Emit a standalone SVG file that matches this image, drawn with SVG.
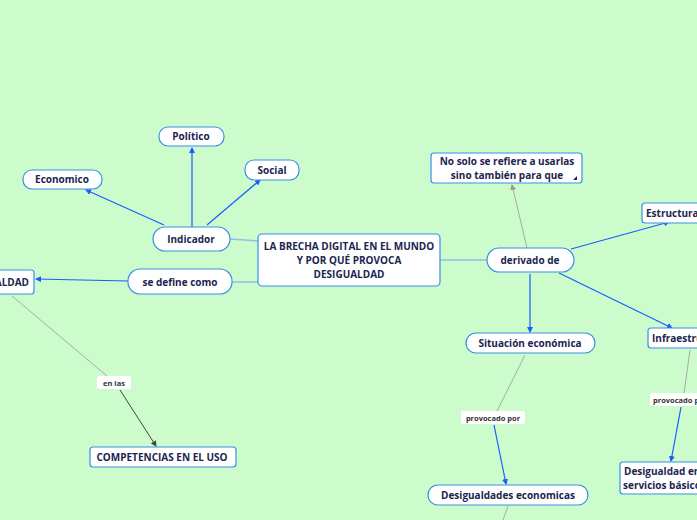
<svg xmlns="http://www.w3.org/2000/svg" width="697" height="520" viewBox="0 0 697 520">
<style>
text{font-family:"Open Sans","Noto Sans",sans-serif;font-weight:bold;font-size:10px;fill:#1b2550;text-anchor:middle}
.n{fill:#fff;stroke:#3a8ee6;stroke-width:1.2}
.lb{font-size:7.5px;fill:#333}
.b{stroke:#1a5cff;stroke-width:1.2;fill:none}
.lt{stroke:#8ec0e8;stroke-width:1.5;fill:none}
.g{stroke:#999;stroke-width:0.8;fill:none}
</style>
<defs>
<marker id="ab" markerWidth="6" markerHeight="6" refX="5" refY="3" orient="auto" markerUnits="userSpaceOnUse"><path d="M0,0L6,3L0,6z" fill="#1a5cff"/></marker>
<marker id="ag" markerWidth="6" markerHeight="6" refX="5" refY="3" orient="auto" markerUnits="userSpaceOnUse"><path d="M0,0L6,3L0,6z" fill="#999"/></marker>
<marker id="ad" markerWidth="6" markerHeight="6" refX="5" refY="3" orient="auto" markerUnits="userSpaceOnUse"><path d="M0,0L6,3L0,6z" fill="#444"/></marker>
</defs>
<rect width="697" height="520" fill="#ccfccc"/>
<g id="connectors">
<path class="lt" d="M230,239L258,241M232,282L258,282M440,260L487,260"/>
<path class="b" marker-end="url(#ab)" d="M192,227L192,148"/>
<path class="b" marker-end="url(#ab)" d="M207,225L260,180"/>
<path class="b" marker-end="url(#ab)" d="M164,225L86,190"/>
<path class="b" marker-end="url(#ab)" d="M128,281L36,279"/>
<path class="g" d="M12,296L107,376"/>
<path d="M120,390L156,446" stroke="#444" stroke-width="1" marker-end="url(#ad)"/>
<path class="g" marker-end="url(#ag)" d="M527,248L512,185"/>
<path class="b" marker-end="url(#ab)" d="M571,249L669,222"/>
<path class="b" marker-end="url(#ab)" d="M559,273L672,328"/>
<path class="b" marker-end="url(#ab)" d="M530,274L530,332"/>
<path class="g" d="M525,355L497,411"/>
<path class="b" marker-end="url(#ab)" d="M494,425L506,484"/>
<path class="g" d="M508,506L503,520"/>
<path class="g" d="M690,350L684,393"/>
<path class="b" marker-end="url(#ab)" d="M681,407L671,461"/>
</g>
<g id="central"><rect class="n" x="258" y="234" width="182" height="52" rx="4"/><text x="349" y="250">LA BRECHA DIGITAL EN EL MUNDO</text><text x="349" y="264">Y POR QUÉ PROVOCA</text><text x="349" y="278">DESIGUALDAD</text></g>
<g id="indicador"><rect class="n" x="153" y="227" width="77" height="24" rx="12"/><text x="191" y="243">Indicador</text></g>
<g id="politico"><rect class="n" x="159" y="127" width="65" height="19" rx="9"/><text x="191" y="140">Político</text></g>
<g id="social"><rect class="n" x="245" y="160" width="54" height="20" rx="9"/><text x="272" y="174">Social</text></g>
<g id="economico"><rect class="n" x="23" y="170" width="79" height="19" rx="9"/><text x="62" y="183">Economico</text></g>
<g id="sedefine"><rect class="n" x="128" y="269" width="104" height="25" rx="12"/><text x="180" y="286">se define como</text></g>
<g id="desigualdad"><rect class="n" x="-12" y="270" width="46" height="24" rx="3"/><text x="29" y="286" style="text-anchor:end">ALDAD</text></g>
<g id="enlas"><rect x="97" y="376" width="34" height="13" rx="2" fill="#fff"/><text class="lb" x="114" y="386">en las</text></g>
<g id="competencias"><rect class="n" x="90" y="447" width="146" height="20" rx="3"/><text x="162" y="461">COMPETENCIAS EN EL USO</text></g>
<g id="nosolo"><rect class="n" x="431" y="153" width="151" height="30" rx="3"/><text x="507" y="165">No solo se refiere a usarlas</text><text x="507" y="179">sino también para que</text><path d="M577,176L577,180L573,180z" fill="#1b2550"/></g>
<g id="derivado"><rect class="n" x="487" y="248" width="87" height="24" rx="12"/><text x="530" y="264">derivado de</text></g>
<g id="estructura"><rect class="n" x="642" y="203" width="62" height="20" rx="3"/><text x="646" y="217" style="text-anchor:start">Estructura</text></g>
<g id="infraestructura"><rect class="n" x="648" y="328" width="56" height="20" rx="3"/><text x="652" y="342" style="text-anchor:start">Infraestructura</text></g>
<g id="situacion"><rect class="n" x="466" y="333" width="129" height="20" rx="10"/><text x="530" y="347">Situación económica</text></g>
<g id="provocadopor"><rect x="461" y="411" width="64" height="13" rx="2" fill="#fff"/><text class="lb" x="493" y="421">provocado por</text></g>
<g id="desigualdadeseco"><rect class="n" x="428" y="485" width="160" height="20" rx="10"/><text x="508" y="499">Desigualdades economicas</text></g>
<g id="provocado2"><rect x="650" y="393" width="50" height="13" rx="2" fill="#fff"/><text class="lb" x="653" y="403" style="text-anchor:start">provocado por</text></g>
<g id="servicios"><rect class="n" x="620" y="462" width="84" height="32" rx="3"/><text x="624" y="475" style="text-anchor:start">Desigualdad en</text><text x="623" y="489" style="text-anchor:start">servicios básicos</text></g>
</svg>
